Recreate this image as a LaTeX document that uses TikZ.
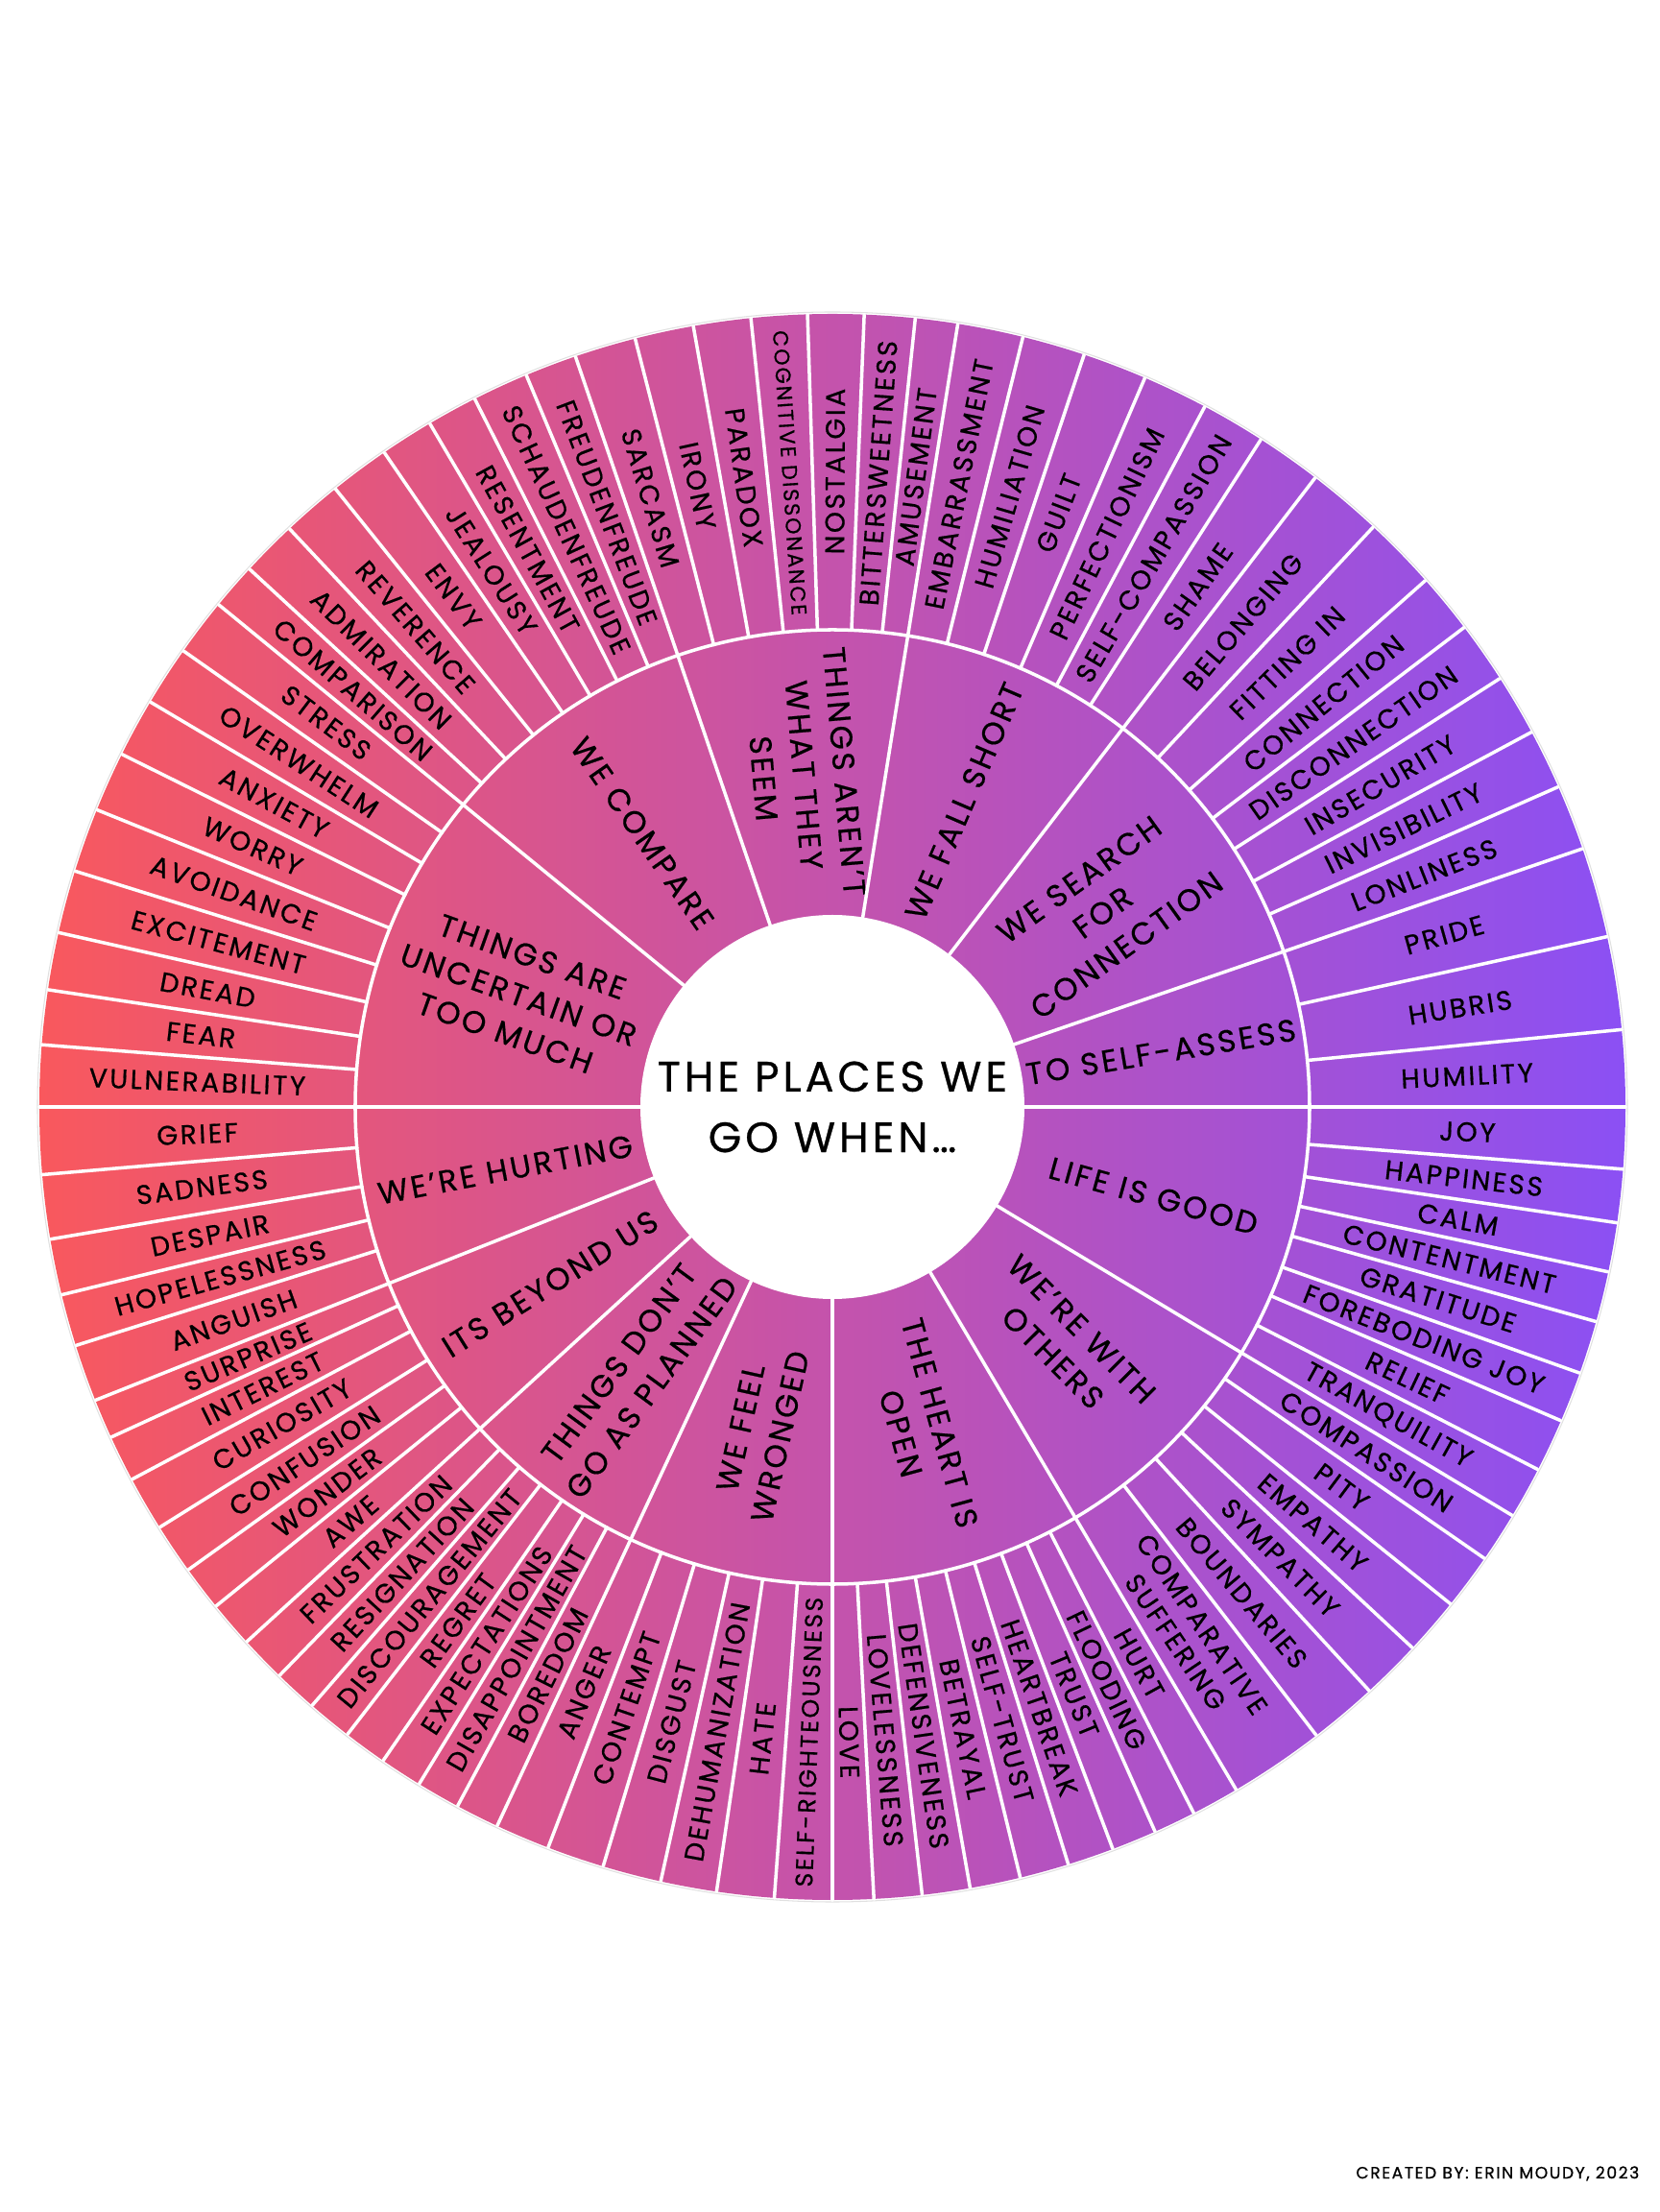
\documentclass[tikz,border=0pt]{standalone}
\usepackage{fontspec}
\setmainfont{Poppins}[LetterSpace=9, FakeBold=0.6]
\definecolor{wheelred}{HTML}{F9585D}
\definecolor{wheelmid}{HTML}{C453AC}
\definecolor{wheelviolet}{HTML}{8B50F4}
\tikzset{
	spoke/.style={white, line width=1pt},
	feeling/.style={font=\fontsize{8}{9.4}\selectfont, inner sep=0pt, align=center},
	place/.style={font=\fontsize{9.2}{12}\selectfont, inner sep=0pt, align=center},
}
\begin{document}
\begin{tikzpicture}[line join=round, line cap=round]
	\useasboundingbox (-8.67,-11.51) rectangle (8.61,11.53);
	\shade[left color=wheelred, right color=wheelviolet, middle color=wheelmid] (0,0) circle (8.26);
	\draw[black!12, line width=0.3pt] (0,0) circle (8.28);
	% outer ring: start angle / end angle / feeling
	\foreach \a/\b/\txt [count=\i] in {
		108.9/104.4/SARCASM, 104.4/100.1/IRONY, 100.1/95.9/PARADOX,
		95.9/91.8/{\fontsize{6.3}{7}\selectfont COGNITIVE DISSONANCE}, 91.8/87.7/NOSTALGIA,
		87.7/84.0/BITTERSWEETNESS, 84.0/80.9/AMUSEMENT,
		80.9/76.1/EMBARRASSMENT, 76.1/71.5/HUMILIATION, 71.5/66.8/GUILT,
		66.8/62.0/PERFECTIONISM, 62.0/57.3/SELF-COMPASSION, 57.3/52.5/SHAME,
		52.5/47.0/BELONGING, 47.0/41.6/FITTING IN, 41.6/37.2/CONNECTION,
		37.2/32.7/DISCONNECTION, 32.7/28.2/INSECURITY, 28.2/23.8/INVISIBILITY,
		23.8/19.0/LONLINESS,
		19.0/12.4/PRIDE, 12.4/5.6/HUBRIS, 5.6/0/HUMILITY,
		0/-4.5/JOY, -4.5/-8.4/HAPPINESS, -8.4/-12.0/CALM, -12.0/-15.7/CONTENTMENT,
		-15.7/-19.6/GRATITUDE, -19.6/-23.3/FOREBODING JOY, -23.3/-27.2/RELIEF,
		-27.2/-31.0/TRANQUILITY,
		-31.0/-34.7/COMPASSION, -34.7/-38.8/PITY, -38.8/-43.0/EMPATHY,
		-43.0/-47.4/SYMPATHY, -47.4/-52.4/BOUNDARIES, -52.4/-59.4/{COMPARATIVE\\SUFFERING},
		-59.4/-62.9/HURT, -62.9/-66.0/FLOODING, -66.0/-69.3/TRUST,
		-69.3/-72.7/HEARTBREAK, -72.7/-76.3/SELF-TRUST, -76.3/-80.0/BETRAYAL,
		-80.0/-83.5/DEFENSIVENESS, -83.5/-87.0/LOVELESSNESS, -87.0/-90.0/LOVE,
		270/265.8/{\fontsize{7.2}{8}\selectfont SELF-RIGHTEOUSNESS}, 265.8/261.6/HATE,
		261.6/257.5/DEHUMANIZATION, 257.5/253.2/DISGUST, 253.2/249.0/CONTEMPT,
		249.0/245.0/ANGER,
		245.0/241.8/BOREDOM, 241.8/238.6/DISAPPOINTMENT, 238.6/235.5/EXPECTATIONS,
		235.5/232.3/REGRET, 232.3/229.0/DISCOURAGEMENT, 229.0/225.8/RESIGNATION,
		225.8/222.4/FRUSTRATION,
		222.4/219.0/AWE, 219.0/215.7/WONDER, 215.7/212.0/CONFUSION,
		212.0/208.0/CURIOSITY, 208.0/204.6/INTEREST, 204.6/201.7/SURPRISE,
		201.7/197.5/ANGUISH, 197.5/193.7/HOPELESSNESS, 193.7/189.6/DESPAIR,
		189.6/184.9/SADNESS, 184.9/180.0/GRIEF,
		180.0/175.5/VULNERABILITY, 175.5/171.5/FEAR, 171.5/167.3/DREAD,
		167.3/162.7/EXCITEMENT, 162.7/158.0/AVOIDANCE, 158.0/153.6/WORRY,
		153.6/149.3/ANXIETY, 149.3/144.9/OVERWHELM, 144.9/140.7/STRESS,
		140.7/137.3/COMPARISON, 137.3/133.2/ADMIRATION, 133.2/128.8/REVERENCE,
		128.8/124.4/ENVY, 124.4/120.5/JEALOUSY, 120.5/116.8/RESENTMENT,
		116.8/112.7/SCHAUDENFREUDE, 112.7/108.9/FREUDENFREUDE}
	{
		\draw[spoke] (\a:4.97) -- (\a:8.26);
		\pgfmathsetmacro{\m}{(\a+\b)/2}
		\pgfmathsetmacro{\rot}{ifthenelse(cos(\m)<0, \m-180, \m)}
		\node[feeling, rotate=\rot] (f\i) at (\m:6.62) {\txt};
	}
	% inner ring: the places
	\foreach \a/\b/\txt [count=\i] in {
		108.9/80.9/{THINGS AREN'T\\WHAT THEY\\SEEM}, 80.9/52.5/WE FALL SHORT,
		52.5/19.0/{WE SEARCH\\FOR\\CONNECTION}, 19.0/0/TO SELF-ASSESS,
		0/-31.0/LIFE IS GOOD, -31.0/-59.4/{WE'RE WITH\\OTHERS},
		-59.4/-90/{THE HEART IS\\OPEN}, 270/245/{WE FEEL\\WRONGED},
		245/222.4/{THINGS DON'T\\GO AS PLANNED}, 222.4/201.7/ITS BEYOND US,
		201.7/180/WE'RE HURTING, 180/140.7/{THINGS ARE\\UNCERTAIN OR\\TOO MUCH},
		140.7/108.9/WE COMPARE}
	{
		\draw[spoke] (\a:2) -- (\a:4.97);
		\pgfmathsetmacro{\m}{(\a+\b)/2}
		\pgfmathsetmacro{\rot}{ifthenelse(cos(\m)<0, \m-180, \m)}
		\node[place, rotate=\rot] (c\i) at (\m:3.47) {\txt};
	}
	\draw[spoke] (0,0) circle (4.97);
	\fill[white] (0,0) circle (2);
	\node[font=\fontsize{12.6}{18}\selectfont, align=center] (title) at (0,0) {THE PLACES WE\\GO WHEN…};
	\node[font=\fontsize{4.9}{5.5}\selectfont, anchor=east, inner sep=0pt] (credit) at (8.41,-11.11) {CREATED BY: ERIN MOUDY, 2023};
\end{tikzpicture}
\end{document}
